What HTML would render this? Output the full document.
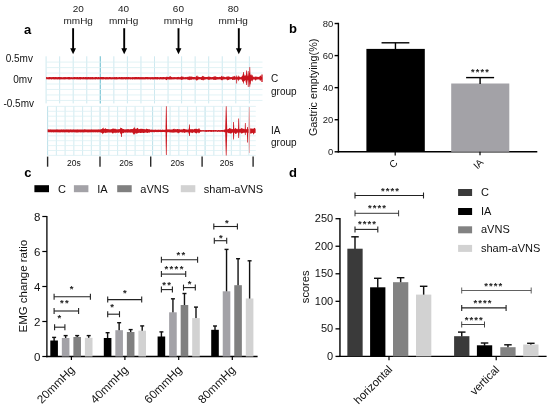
<!DOCTYPE html>
<html><head><meta charset="utf-8"><title>Figure</title>
<style>html,body{margin:0;padding:0;background:#fff}svg{display:block}text{font-family:'Liberation Sans', sans-serif}</style>
</head><body>
<svg width="550" height="407" viewBox="0 0 550 407">
<rect width="550" height="407" fill="#fff"/>
<text x="24" y="33.5" font-size="13" text-anchor="start" font-weight="bold" fill="#000">a</text>
<text transform="translate(78.2 12.40) scale(1.1 1)" font-size="9.1" text-anchor="middle" fill="#1a1a1a">20</text>
<text transform="translate(78.2 24.30) scale(1.1 1)" font-size="9.1" text-anchor="middle" fill="#1a1a1a">mmHg</text>
<line x1="73.1" y1="28.2" x2="73.1" y2="49.5" stroke="#000" stroke-width="1.9"/>
<polygon points="70.19999999999999,48.2 76.0,48.2 73.1,54.2" fill="#000"/>
<text transform="translate(123.6 12.40) scale(1.1 1)" font-size="9.1" text-anchor="middle" fill="#1a1a1a">40</text>
<text transform="translate(123.6 24.30) scale(1.1 1)" font-size="9.1" text-anchor="middle" fill="#1a1a1a">mmHg</text>
<line x1="124.2" y1="28.2" x2="124.2" y2="49.5" stroke="#000" stroke-width="1.9"/>
<polygon points="121.3,48.2 127.10000000000001,48.2 124.2,54.2" fill="#000"/>
<text transform="translate(178.4 12.40) scale(1.1 1)" font-size="9.1" text-anchor="middle" fill="#1a1a1a">60</text>
<text transform="translate(178.4 24.30) scale(1.1 1)" font-size="9.1" text-anchor="middle" fill="#1a1a1a">mmHg</text>
<line x1="178.5" y1="28.2" x2="178.5" y2="49.5" stroke="#000" stroke-width="1.9"/>
<polygon points="175.6,48.2 181.4,48.2 178.5,54.2" fill="#000"/>
<text transform="translate(233.2 12.40) scale(1.1 1)" font-size="9.1" text-anchor="middle" fill="#1a1a1a">80</text>
<text transform="translate(233.2 24.30) scale(1.1 1)" font-size="9.1" text-anchor="middle" fill="#1a1a1a">mmHg</text>
<line x1="238.8" y1="28.2" x2="238.8" y2="49.5" stroke="#000" stroke-width="1.9"/>
<polygon points="235.9,48.2 241.70000000000002,48.2 238.8,54.2" fill="#000"/>
<text x="32.9" y="62.4" font-size="10" text-anchor="end" font-weight="normal" fill="#111">0.5mv</text>
<text x="32.2" y="83.3" font-size="10" text-anchor="end" font-weight="normal" fill="#111">0mv</text>
<text x="34" y="107" font-size="10" text-anchor="end" font-weight="normal" fill="#111">-0.5mv</text>
<line x1="46.1" y1="56.3" x2="46.1" y2="103.4" stroke="#c8e7ee" stroke-width="0.9"/>
<line x1="59.65" y1="56.3" x2="59.65" y2="103.4" stroke="#c8e7ee" stroke-width="0.9"/>
<line x1="73.2" y1="56.3" x2="73.2" y2="103.4" stroke="#c8e7ee" stroke-width="0.9"/>
<line x1="86.75" y1="56.3" x2="86.75" y2="103.4" stroke="#c8e7ee" stroke-width="0.9"/>
<line x1="100.3" y1="56.3" x2="100.3" y2="103.4" stroke="#7fc7d6" stroke-width="1.2"/>
<line x1="113.85" y1="56.3" x2="113.85" y2="103.4" stroke="#c8e7ee" stroke-width="0.9"/>
<line x1="127.4" y1="56.3" x2="127.4" y2="103.4" stroke="#c8e7ee" stroke-width="0.9"/>
<line x1="140.95" y1="56.3" x2="140.95" y2="103.4" stroke="#c8e7ee" stroke-width="0.9"/>
<line x1="154.5" y1="56.3" x2="154.5" y2="103.4" stroke="#c8e7ee" stroke-width="0.9"/>
<line x1="168.05" y1="56.3" x2="168.05" y2="103.4" stroke="#c8e7ee" stroke-width="0.9"/>
<line x1="181.6" y1="56.3" x2="181.6" y2="103.4" stroke="#c8e7ee" stroke-width="0.9"/>
<line x1="195.15" y1="56.3" x2="195.15" y2="103.4" stroke="#c8e7ee" stroke-width="0.9"/>
<line x1="208.7" y1="56.3" x2="208.7" y2="103.4" stroke="#c8e7ee" stroke-width="0.9"/>
<line x1="222.25" y1="56.3" x2="222.25" y2="103.4" stroke="#c8e7ee" stroke-width="0.9"/>
<line x1="235.8" y1="56.3" x2="235.8" y2="103.4" stroke="#c8e7ee" stroke-width="0.9"/>
<line x1="249.35" y1="56.3" x2="249.35" y2="103.4" stroke="#c8e7ee" stroke-width="0.9"/>
<line x1="46.1" y1="62.08" x2="262.5" y2="62.08" stroke="#dcf0f4" stroke-width="0.8"/>
<line x1="46.1" y1="67.56" x2="262.5" y2="67.56" stroke="#dcf0f4" stroke-width="0.8"/>
<line x1="46.1" y1="73.04" x2="262.5" y2="73.04" stroke="#dcf0f4" stroke-width="0.8"/>
<line x1="46.1" y1="78.52" x2="262.5" y2="78.52" stroke="#dcf0f4" stroke-width="0.8"/>
<line x1="46.1" y1="84.0" x2="262.5" y2="84.0" stroke="#dcf0f4" stroke-width="0.8"/>
<line x1="46.1" y1="89.48" x2="262.5" y2="89.48" stroke="#dcf0f4" stroke-width="0.8"/>
<line x1="46.1" y1="94.96" x2="262.5" y2="94.96" stroke="#dcf0f4" stroke-width="0.8"/>
<line x1="46.1" y1="100.44" x2="262.5" y2="100.44" stroke="#dcf0f4" stroke-width="0.8"/>
<line x1="47.6" y1="106.2" x2="47.6" y2="155.4" stroke="#b4dde7" stroke-width="0.9"/>
<line x1="56.35" y1="106.2" x2="56.35" y2="155.4" stroke="#c8e7ee" stroke-width="0.8"/>
<line x1="65.1" y1="106.2" x2="65.1" y2="155.4" stroke="#c8e7ee" stroke-width="0.8"/>
<line x1="73.85" y1="106.2" x2="73.85" y2="155.4" stroke="#c8e7ee" stroke-width="0.8"/>
<line x1="82.6" y1="106.2" x2="82.6" y2="155.4" stroke="#c8e7ee" stroke-width="0.8"/>
<line x1="91.35" y1="106.2" x2="91.35" y2="155.4" stroke="#c8e7ee" stroke-width="0.8"/>
<line x1="100.1" y1="106.2" x2="100.1" y2="155.4" stroke="#b4dde7" stroke-width="0.9"/>
<line x1="108.85" y1="106.2" x2="108.85" y2="155.4" stroke="#c8e7ee" stroke-width="0.8"/>
<line x1="117.6" y1="106.2" x2="117.6" y2="155.4" stroke="#c8e7ee" stroke-width="0.8"/>
<line x1="126.35" y1="106.2" x2="126.35" y2="155.4" stroke="#c8e7ee" stroke-width="0.8"/>
<line x1="135.1" y1="106.2" x2="135.1" y2="155.4" stroke="#c8e7ee" stroke-width="0.8"/>
<line x1="143.85" y1="106.2" x2="143.85" y2="155.4" stroke="#c8e7ee" stroke-width="0.8"/>
<line x1="152.6" y1="106.2" x2="152.6" y2="155.4" stroke="#b4dde7" stroke-width="0.9"/>
<line x1="161.35" y1="106.2" x2="161.35" y2="155.4" stroke="#c8e7ee" stroke-width="0.8"/>
<line x1="170.1" y1="106.2" x2="170.1" y2="155.4" stroke="#c8e7ee" stroke-width="0.8"/>
<line x1="178.85" y1="106.2" x2="178.85" y2="155.4" stroke="#c8e7ee" stroke-width="0.8"/>
<line x1="187.6" y1="106.2" x2="187.6" y2="155.4" stroke="#c8e7ee" stroke-width="0.8"/>
<line x1="196.35" y1="106.2" x2="196.35" y2="155.4" stroke="#c8e7ee" stroke-width="0.8"/>
<line x1="205.1" y1="106.2" x2="205.1" y2="155.4" stroke="#b4dde7" stroke-width="0.9"/>
<line x1="213.85" y1="106.2" x2="213.85" y2="155.4" stroke="#c8e7ee" stroke-width="0.8"/>
<line x1="222.6" y1="106.2" x2="222.6" y2="155.4" stroke="#c8e7ee" stroke-width="0.8"/>
<line x1="231.35" y1="106.2" x2="231.35" y2="155.4" stroke="#c8e7ee" stroke-width="0.8"/>
<line x1="240.1" y1="106.2" x2="240.1" y2="155.4" stroke="#c8e7ee" stroke-width="0.8"/>
<line x1="248.85" y1="106.2" x2="248.85" y2="155.4" stroke="#c8e7ee" stroke-width="0.8"/>
<line x1="47.6" y1="106.4" x2="255.8" y2="106.4" stroke="#dcf0f4" stroke-width="0.8"/>
<line x1="47.6" y1="111.3" x2="255.8" y2="111.3" stroke="#dcf0f4" stroke-width="0.8"/>
<line x1="47.6" y1="116.2" x2="255.8" y2="116.2" stroke="#dcf0f4" stroke-width="0.8"/>
<line x1="47.6" y1="121.1" x2="255.8" y2="121.1" stroke="#dcf0f4" stroke-width="0.8"/>
<line x1="47.6" y1="126.0" x2="255.8" y2="126.0" stroke="#dcf0f4" stroke-width="0.8"/>
<line x1="47.6" y1="130.9" x2="255.8" y2="130.9" stroke="#dcf0f4" stroke-width="0.8"/>
<line x1="47.6" y1="135.8" x2="255.8" y2="135.8" stroke="#dcf0f4" stroke-width="0.8"/>
<line x1="47.6" y1="140.7" x2="255.8" y2="140.7" stroke="#dcf0f4" stroke-width="0.8"/>
<line x1="47.6" y1="145.6" x2="255.8" y2="145.6" stroke="#dcf0f4" stroke-width="0.8"/>
<line x1="47.6" y1="150.5" x2="255.8" y2="150.5" stroke="#dcf0f4" stroke-width="0.8"/>
<line x1="47.6" y1="155.4" x2="255.8" y2="155.4" stroke="#dcf0f4" stroke-width="0.8"/>
<polygon points="46.1,77.1 46.5,77.0 46.9,77.1 47.3,77.2 47.7,77.2 48.1,77.2 48.5,77.1 48.9,77.2 49.3,77.0 49.7,77.0 50.1,76.9 50.5,76.9 50.9,77.2 51.3,77.1 51.7,77.2 52.1,77.0 52.5,77.1 52.9,77.2 53.3,77.0 53.7,77.1 54.1,77.1 54.5,77.0 54.9,77.2 55.3,77.1 55.7,77.0 56.1,76.9 56.5,77.1 56.9,77.2 57.3,77.2 57.7,77.0 58.1,76.9 58.5,77.0 58.9,77.0 59.3,77.0 59.7,77.1 60.1,77.2 60.5,77.0 60.9,77.0 61.3,77.1 61.7,77.2 62.1,77.2 62.5,77.2 62.9,77.2 63.3,77.1 63.7,77.2 64.1,77.1 64.5,77.0 64.9,77.2 65.3,77.1 65.7,76.9 66.1,77.2 66.5,77.2 66.9,77.0 67.3,77.2 67.7,77.1 68.1,76.9 68.5,77.1 68.9,77.0 69.3,76.9 69.7,76.9 70.1,77.1 70.5,77.2 70.9,77.2 71.3,77.2 71.7,77.1 72.1,77.2 72.5,77.2 72.9,77.2 73.3,77.0 73.7,77.2 74.1,77.1 74.5,77.0 74.9,77.1 75.3,77.2 75.7,77.1 76.1,77.0 76.5,77.2 76.9,77.1 77.3,77.1 77.7,77.1 78.1,76.9 78.5,77.2 78.9,77.2 79.3,77.1 79.7,77.1 80.1,77.0 80.5,77.0 80.9,77.0 81.3,77.2 81.7,77.1 82.1,77.2 82.5,77.2 82.9,76.9 83.3,76.9 83.7,76.9 84.1,77.2 84.5,77.2 84.9,77.0 85.3,77.0 85.7,77.0 86.1,77.2 86.5,76.9 86.9,77.0 87.3,77.2 87.7,77.1 88.1,76.9 88.5,77.1 88.9,77.0 89.3,77.2 89.7,76.9 90.1,77.2 90.5,76.9 90.9,77.1 91.3,77.2 91.7,76.9 92.1,77.1 92.5,77.1 92.9,77.0 93.3,77.2 93.7,77.2 94.1,77.2 94.5,77.2 94.9,77.1 95.3,77.0 95.7,77.1 96.1,77.1 96.5,77.1 96.9,77.1 97.3,77.2 97.7,77.2 98.1,77.0 98.5,77.1 98.9,77.1 99.3,77.2 99.7,77.2 100.1,77.0 100.5,77.1 100.9,76.9 101.3,77.0 101.7,77.1 102.1,77.1 102.5,77.1 102.9,77.0 103.3,76.9 103.7,77.1 104.1,77.0 104.5,77.2 104.9,77.2 105.3,77.2 105.7,77.0 106.1,77.2 106.5,77.0 106.9,76.9 107.3,77.2 107.7,77.1 108.1,76.9 108.5,77.2 108.9,77.2 109.3,77.1 109.7,77.0 110.1,77.0 110.5,77.2 110.9,77.1 111.3,77.2 111.7,77.2 112.1,77.2 112.5,77.2 112.9,77.1 113.3,77.2 113.7,77.2 114.1,77.1 114.5,77.1 114.9,77.2 115.3,77.2 115.7,77.0 116.1,77.1 116.5,77.1 116.9,77.1 117.3,77.2 117.7,77.2 118.1,77.2 118.5,77.2 118.9,76.9 119.3,77.1 119.7,77.1 120.1,77.2 120.5,77.2 120.9,77.0 121.3,77.0 121.7,76.9 122.1,77.2 122.5,77.0 122.9,77.1 123.3,77.0 123.7,77.2 124.1,77.2 124.5,77.0 124.9,77.0 125.3,77.0 125.7,77.2 126.1,77.0 126.5,77.1 126.9,77.0 127.3,77.0 127.7,77.2 128.1,77.0 128.5,77.1 128.9,76.9 129.3,77.0 129.7,77.2 130.1,77.2 130.5,77.0 130.9,77.2 131.3,77.2 131.7,77.2 132.1,77.2 132.5,76.9 132.9,77.1 133.3,77.1 133.7,77.2 134.1,77.2 134.5,77.1 134.9,77.0 135.3,77.0 135.7,77.0 136.1,76.9 136.5,77.1 136.9,77.0 137.3,77.2 137.7,77.1 138.1,77.1 138.5,77.1 138.9,77.1 139.3,77.1 139.7,77.2 140.1,77.1 140.5,77.2 140.9,76.9 141.3,77.2 141.7,77.0 142.1,77.0 142.5,77.2 142.9,76.9 143.3,77.1 143.7,77.2 144.1,77.2 144.5,77.2 144.9,77.1 145.3,77.1 145.7,76.9 146.1,76.9 146.5,77.1 146.9,77.0 147.3,77.1 147.7,77.0 148.1,76.9 148.5,77.2 148.9,77.1 149.3,77.0 149.7,77.2 150.1,77.2 150.5,77.0 150.9,77.2 151.3,77.0 151.7,77.2 152.1,76.9 152.5,77.1 152.9,77.2 153.3,77.2 153.7,77.1 154.1,77.2 154.5,77.0 154.9,76.9 155.3,77.1 155.7,76.9 156.1,77.2 156.5,77.1 156.9,76.9 157.3,77.0 157.7,77.1 158.1,77.2 158.5,77.2 158.9,76.9 159.3,77.2 159.7,77.2 160.1,77.0 160.5,77.0 160.9,77.0 161.3,77.2 161.7,77.1 162.1,77.0 162.5,77.1 162.9,77.2 163.3,76.9 163.7,76.9 164.1,77.0 164.5,77.2 164.9,77.1 165.3,77.3 165.7,77.1 166.1,77.0 166.5,76.7 166.9,76.7 167.3,76.9 167.7,76.7 168.1,77.1 168.5,77.0 168.9,77.1 169.3,76.4 169.7,76.6 170.1,76.2 170.5,76.2 170.9,76.4 171.3,76.9 171.7,77.0 172.1,77.0 172.5,77.2 172.9,77.3 173.3,77.2 173.7,77.0 174.1,77.1 174.5,77.0 174.9,77.2 175.3,76.9 175.7,77.2 176.1,77.2 176.5,77.1 176.9,77.2 177.3,77.0 177.7,76.9 178.1,76.9 178.5,76.8 178.9,77.1 179.3,77.0 179.7,77.2 180.1,77.3 180.5,76.7 180.9,76.9 181.3,76.5 181.7,76.3 182.1,76.6 182.5,76.5 182.9,76.9 183.3,76.5 183.7,77.2 184.1,77.0 184.5,77.3 184.9,77.3 185.3,77.1 185.7,77.0 186.1,77.2 186.5,76.8 186.9,77.2 187.3,76.9 187.7,76.7 188.1,76.9 188.5,76.8 188.9,76.6 189.3,76.7 189.7,76.2 190.1,76.3 190.5,76.4 190.9,77.0 191.3,76.3 191.7,76.7 192.1,76.8 192.5,77.0 192.9,76.8 193.3,77.0 193.7,76.9 194.1,76.9 194.5,77.0 194.9,77.0 195.3,77.2 195.7,76.9 196.1,76.2 196.5,76.3 196.9,75.6 197.3,75.5 197.7,76.9 198.1,76.1 198.5,77.1 198.9,77.0 199.3,77.0 199.7,76.9 200.1,77.2 200.5,77.0 200.9,77.0 201.3,77.1 201.7,76.8 202.1,76.5 202.5,75.8 202.9,76.1 203.3,76.0 203.7,76.4 204.1,76.7 204.5,76.9 204.9,76.7 205.3,76.9 205.7,77.1 206.1,76.9 206.5,76.9 206.9,77.0 207.3,76.8 207.7,77.0 208.1,77.0 208.5,76.4 208.9,76.2 209.3,76.6 209.7,77.0 210.1,76.7 210.5,77.0 210.9,76.9 211.3,77.2 211.7,76.9 212.1,77.0 212.5,77.1 212.9,77.0 213.3,76.8 213.7,76.7 214.1,76.3 214.5,76.5 214.9,76.6 215.3,76.5 215.7,76.3 216.1,76.5 216.5,77.1 216.9,77.0 217.3,77.1 217.7,76.9 218.1,77.2 218.5,76.9 218.9,77.0 219.3,76.8 219.7,77.1 220.1,76.9 220.5,77.0 220.9,76.8 221.3,76.3 221.7,75.8 222.1,75.9 222.5,76.8 222.9,76.7 223.3,76.6 223.7,76.6 224.1,76.9 224.5,76.8 224.9,76.9 225.3,77.1 225.7,77.2 226.1,77.0 226.5,76.8 226.9,76.4 227.3,76.7 227.7,76.5 228.1,76.1 228.5,76.7 228.9,76.4 229.3,76.6 229.7,76.9 230.1,77.0 230.5,76.9 230.9,77.2 231.3,76.9 231.7,76.9 232.1,77.2 232.5,76.5 232.9,76.4 233.3,76.6 233.7,76.6 234.1,75.8 234.5,76.0 234.9,76.6 235.3,76.3 235.7,77.2 236.1,76.9 236.5,76.9 236.9,77.2 237.3,77.3 237.7,76.4 238.1,76.7 238.5,75.9 238.9,75.2 239.3,76.4 239.7,77.0 240.1,77.2 240.5,77.0 240.9,77.2 241.3,77.0 241.7,76.6 242.1,75.8 242.5,75.8 242.9,73.9 243.3,73.3 243.7,73.3 244.1,73.8 244.5,76.0 244.9,75.5 245.3,76.0 245.7,74.5 246.1,75.4 246.5,72.5 246.9,73.3 247.3,74.8 247.7,76.3 248.1,76.3 248.5,75.5 248.9,73.6 249.3,72.5 249.7,72.2 250.1,73.7 250.5,75.2 250.9,74.8 251.3,75.7 251.7,73.7 252.1,75.6 252.5,74.5 252.9,76.5 253.3,76.8 253.7,76.8 254.1,77.1 254.5,77.2 254.9,76.2 255.3,76.2 255.7,76.9 256.1,76.5 256.5,76.7 256.9,76.8 257.3,77.0 257.7,76.8 258.1,76.8 258.5,77.0 258.9,77.1 259.3,76.9 259.7,76.1 260.1,76.0 260.5,75.8 260.9,75.3 261.3,76.0 261.7,76.9 262.1,76.9 262.1,79.7 261.7,79.4 261.3,79.9 260.9,81.2 260.5,80.6 260.1,80.1 259.7,80.4 259.3,79.3 258.9,79.5 258.5,79.5 258.1,79.2 257.7,79.6 257.3,79.6 256.9,79.5 256.5,79.5 256.1,80.3 255.7,80.5 255.3,80.4 254.9,79.6 254.5,79.4 254.1,79.8 253.7,79.4 253.3,79.5 252.9,80.1 252.5,82.0 252.1,80.4 251.7,80.3 251.3,81.3 250.9,81.0 250.5,84.9 250.1,83.6 249.7,85.3 249.3,81.6 248.9,82.4 248.5,80.2 248.1,79.9 247.7,79.8 247.3,81.2 246.9,81.5 246.5,82.2 246.1,83.5 245.7,82.1 245.3,79.8 244.9,80.5 244.5,81.1 244.1,81.2 243.7,82.5 243.3,81.5 242.9,81.8 242.5,81.7 242.1,80.8 241.7,79.7 241.3,79.4 240.9,79.3 240.5,79.4 240.1,79.3 239.7,79.3 239.3,80.1 238.9,80.1 238.5,81.4 238.1,80.3 237.7,79.9 237.3,79.2 236.9,79.3 236.5,79.5 236.1,79.2 235.7,79.7 235.3,79.6 234.9,79.8 234.5,79.8 234.1,80.0 233.7,79.5 233.3,80.0 232.9,80.0 232.5,79.9 232.1,79.7 231.7,79.1 231.3,79.3 230.9,79.3 230.5,79.5 230.1,79.3 229.7,79.5 229.3,79.5 228.9,79.7 228.5,80.1 228.1,80.0 227.7,80.4 227.3,80.0 226.9,79.6 226.5,79.6 226.1,79.6 225.7,79.2 225.3,79.2 224.9,79.5 224.5,79.3 224.1,79.6 223.7,79.6 223.3,79.4 222.9,79.5 222.5,80.3 222.1,80.3 221.7,80.3 221.3,79.9 220.9,79.7 220.5,79.6 220.1,79.3 219.7,79.4 219.3,79.3 218.9,79.4 218.5,79.4 218.1,79.3 217.7,79.4 217.3,79.5 216.9,79.6 216.5,79.5 216.1,79.9 215.7,79.8 215.3,80.0 214.9,80.0 214.5,80.0 214.1,79.6 213.7,79.7 213.3,79.9 212.9,79.5 212.5,79.6 212.1,79.3 211.7,79.5 211.3,79.6 210.9,79.5 210.5,79.6 210.1,79.6 209.7,79.9 209.3,79.5 208.9,79.9 208.5,79.6 208.1,80.0 207.7,79.4 207.3,79.2 206.9,79.2 206.5,79.2 206.1,79.2 205.7,79.4 205.3,79.5 204.9,79.4 204.5,79.9 204.1,79.6 203.7,80.0 203.3,80.6 202.9,80.3 202.5,79.8 202.1,80.3 201.7,80.0 201.3,80.0 200.9,79.4 200.5,79.3 200.1,79.4 199.7,79.5 199.3,79.3 198.9,79.2 198.5,79.6 198.1,79.8 197.7,80.5 197.3,79.7 196.9,80.5 196.5,80.5 196.1,80.3 195.7,79.3 195.3,79.7 194.9,79.4 194.5,79.3 194.1,79.5 193.7,79.6 193.3,79.4 192.9,79.4 192.5,79.3 192.1,79.6 191.7,79.8 191.3,79.7 190.9,80.0 190.5,79.5 190.1,80.0 189.7,80.3 189.3,79.7 188.9,80.0 188.5,79.7 188.1,79.7 187.7,79.4 187.3,79.7 186.9,79.3 186.5,79.3 186.1,79.3 185.7,79.4 185.3,79.3 184.9,79.2 184.5,79.3 184.1,79.5 183.7,79.1 183.3,79.7 182.9,79.6 182.5,79.5 182.1,80.1 181.7,79.8 181.3,80.0 180.9,79.6 180.5,79.5 180.1,79.4 179.7,79.3 179.3,79.5 178.9,79.4 178.5,79.2 178.1,79.4 177.7,79.4 177.3,79.6 176.9,79.3 176.5,79.5 176.1,79.2 175.7,79.2 175.3,79.2 174.9,79.3 174.5,79.3 174.1,79.4 173.7,79.4 173.3,79.3 172.9,79.6 172.5,79.3 172.1,79.4 171.7,79.4 171.3,79.6 170.9,79.3 170.5,79.4 170.1,79.7 169.7,79.5 169.3,79.6 168.9,79.4 168.5,79.5 168.1,79.3 167.7,79.2 167.3,79.5 166.9,80.2 166.5,80.1 166.1,79.9 165.7,79.7 165.3,79.3 164.9,79.3 164.5,79.1 164.1,79.4 163.7,79.2 163.3,79.5 162.9,79.2 162.5,79.4 162.1,79.5 161.7,79.3 161.3,79.4 160.9,79.2 160.5,79.3 160.1,79.4 159.7,79.4 159.3,79.4 158.9,79.2 158.5,79.3 158.1,79.2 157.7,79.4 157.3,79.4 156.9,79.4 156.5,79.3 156.1,79.5 155.7,79.5 155.3,79.2 154.9,79.2 154.5,79.3 154.1,79.5 153.7,79.4 153.3,79.5 152.9,79.3 152.5,79.4 152.1,79.5 151.7,79.2 151.3,79.3 150.9,79.4 150.5,79.5 150.1,79.5 149.7,79.2 149.3,79.2 148.9,79.2 148.5,79.3 148.1,79.4 147.7,79.3 147.3,79.4 146.9,79.2 146.5,79.3 146.1,79.3 145.7,79.2 145.3,79.5 144.9,79.4 144.5,79.3 144.1,79.4 143.7,79.4 143.3,79.2 142.9,79.4 142.5,79.3 142.1,79.5 141.7,79.3 141.3,79.5 140.9,79.5 140.5,79.3 140.1,79.5 139.7,79.5 139.3,79.3 138.9,79.4 138.5,79.2 138.1,79.2 137.7,79.5 137.3,79.2 136.9,79.3 136.5,79.5 136.1,79.3 135.7,79.3 135.3,79.4 134.9,79.5 134.5,79.5 134.1,79.3 133.7,79.2 133.3,79.2 132.9,79.5 132.5,79.5 132.1,79.4 131.7,79.3 131.3,79.3 130.9,79.3 130.5,79.5 130.1,79.5 129.7,79.2 129.3,79.3 128.9,79.2 128.5,79.5 128.1,79.3 127.7,79.4 127.3,79.3 126.9,79.2 126.5,79.4 126.1,79.3 125.7,79.4 125.3,79.4 124.9,79.3 124.5,79.3 124.1,79.3 123.7,79.2 123.3,79.4 122.9,79.4 122.5,79.2 122.1,79.5 121.7,79.4 121.3,79.3 120.9,79.4 120.5,79.3 120.1,79.2 119.7,79.2 119.3,79.2 118.9,79.2 118.5,79.2 118.1,79.3 117.7,79.5 117.3,79.2 116.9,79.2 116.5,79.4 116.1,79.4 115.7,79.3 115.3,79.5 114.9,79.4 114.5,79.3 114.1,79.4 113.7,79.2 113.3,79.3 112.9,79.3 112.5,79.2 112.1,79.4 111.7,79.4 111.3,79.3 110.9,79.4 110.5,79.2 110.1,79.2 109.7,79.2 109.3,79.2 108.9,79.4 108.5,79.3 108.1,79.4 107.7,79.3 107.3,79.5 106.9,79.5 106.5,79.2 106.1,79.4 105.7,79.5 105.3,79.4 104.9,79.2 104.5,79.3 104.1,79.2 103.7,79.5 103.3,79.2 102.9,79.5 102.5,79.5 102.1,79.3 101.7,79.4 101.3,79.3 100.9,79.3 100.5,79.4 100.1,79.3 99.7,79.2 99.3,79.3 98.9,79.4 98.5,79.3 98.1,79.3 97.7,79.3 97.3,79.4 96.9,79.2 96.5,79.2 96.1,79.3 95.7,79.5 95.3,79.5 94.9,79.3 94.5,79.5 94.1,79.3 93.7,79.4 93.3,79.3 92.9,79.2 92.5,79.5 92.1,79.5 91.7,79.4 91.3,79.2 90.9,79.3 90.5,79.4 90.1,79.4 89.7,79.4 89.3,79.2 88.9,79.2 88.5,79.5 88.1,79.3 87.7,79.4 87.3,79.4 86.9,79.3 86.5,79.4 86.1,79.4 85.7,79.4 85.3,79.3 84.9,79.5 84.5,79.2 84.1,79.2 83.7,79.3 83.3,79.5 82.9,79.3 82.5,79.4 82.1,79.2 81.7,79.2 81.3,79.3 80.9,79.4 80.5,79.4 80.1,79.5 79.7,79.2 79.3,79.4 78.9,79.4 78.5,79.3 78.1,79.4 77.7,79.5 77.3,79.2 76.9,79.2 76.5,79.5 76.1,79.2 75.7,79.2 75.3,79.2 74.9,79.3 74.5,79.5 74.1,79.2 73.7,79.3 73.3,79.2 72.9,79.5 72.5,79.3 72.1,79.2 71.7,79.2 71.3,79.2 70.9,79.2 70.5,79.4 70.1,79.3 69.7,79.4 69.3,79.4 68.9,79.2 68.5,79.4 68.1,79.4 67.7,79.3 67.3,79.3 66.9,79.2 66.5,79.3 66.1,79.2 65.7,79.2 65.3,79.5 64.9,79.3 64.5,79.5 64.1,79.5 63.7,79.3 63.3,79.5 62.9,79.2 62.5,79.4 62.1,79.2 61.7,79.3 61.3,79.4 60.9,79.2 60.5,79.5 60.1,79.4 59.7,79.4 59.3,79.5 58.9,79.3 58.5,79.4 58.1,79.3 57.7,79.4 57.3,79.4 56.9,79.3 56.5,79.4 56.1,79.2 55.7,79.3 55.3,79.5 54.9,79.4 54.5,79.4 54.1,79.3 53.7,79.4 53.3,79.3 52.9,79.2 52.5,79.2 52.1,79.3 51.7,79.4 51.3,79.4 50.9,79.2 50.5,79.3 50.1,79.2 49.7,79.3 49.3,79.5 48.9,79.2 48.5,79.4 48.1,79.2 47.7,79.3 47.3,79.3 46.9,79.3 46.5,79.2 46.1,79.2" fill="#c9151e"/>
<polygon points="249.45000000000002,67 250.15,67 250.5,78.2 250.15,86.8 249.45000000000002,86.8 249.10000000000002,78.2" fill="#c9151e"/>
<polygon points="246.25,70.5 246.95,70.5 247.29999999999998,78.2 246.95,85 246.25,85 245.9,78.2" fill="#c9151e"/>
<polygon points="243.25,72 243.95,72 244.2,78.2 243.95,83.5 243.25,83.5 243.0,78.2" fill="#c9151e"/>
<polygon points="247.85,71 248.54999999999998,71 248.79999999999998,78.2 248.54999999999998,87 247.85,87 247.6,78.2" fill="#c9151e"/>
<polygon points="236.35,75.5 237.04999999999998,75.5 237.2,78.2 237.04999999999998,83.5 236.35,83.5 236.2,78.2" fill="#c9151e"/>
<line x1="262" y1="74.5" x2="262" y2="82" stroke="#c9151e" stroke-width="1.3"/>
<polygon points="47.6,129.6 48.0,129.3 48.4,129.4 48.8,129.3 49.2,129.4 49.6,129.6 50.0,129.4 50.4,129.6 50.8,129.3 51.2,129.5 51.6,129.6 52.0,129.4 52.4,129.6 52.8,129.4 53.2,129.6 53.6,129.4 54.0,129.4 54.4,129.6 54.8,129.4 55.2,129.4 55.6,129.4 56.0,129.4 56.4,129.5 56.8,129.3 57.2,129.3 57.6,129.6 58.0,129.5 58.4,129.5 58.8,129.6 59.2,129.5 59.6,129.6 60.0,129.4 60.4,129.5 60.8,129.6 61.2,129.5 61.6,129.3 62.0,129.6 62.4,129.4 62.8,129.4 63.2,129.3 63.6,129.5 64.0,129.5 64.4,129.6 64.8,129.4 65.2,129.4 65.6,129.4 66.0,129.5 66.4,129.4 66.8,129.3 67.2,129.4 67.6,129.5 68.0,129.3 68.4,129.4 68.8,129.4 69.2,129.5 69.6,129.5 70.0,129.5 70.4,129.3 70.8,129.5 71.2,129.5 71.6,129.6 72.0,129.5 72.4,129.5 72.8,129.5 73.2,129.5 73.6,129.3 74.0,129.6 74.4,129.6 74.8,129.6 75.2,129.6 75.6,129.6 76.0,129.4 76.4,129.4 76.8,129.4 77.2,129.3 77.6,129.5 78.0,129.4 78.4,129.5 78.8,129.5 79.2,129.4 79.6,129.6 80.0,129.4 80.4,129.4 80.8,129.5 81.2,129.5 81.6,129.5 82.0,129.4 82.4,129.5 82.8,129.6 83.2,129.4 83.6,129.5 84.0,129.5 84.4,129.3 84.8,129.3 85.2,129.3 85.6,129.5 86.0,129.4 86.4,129.4 86.8,129.5 87.2,129.4 87.6,129.5 88.0,129.5 88.4,129.6 88.8,129.6 89.2,129.4 89.6,129.4 90.0,129.6 90.4,129.4 90.8,129.6 91.2,129.5 91.6,129.3 92.0,129.4 92.4,129.5 92.8,129.4 93.2,129.5 93.6,129.5 94.0,129.5 94.4,129.5 94.8,129.5 95.2,129.6 95.6,129.6 96.0,129.4 96.4,129.4 96.8,129.5 97.2,129.5 97.6,129.4 98.0,129.5 98.4,129.3 98.8,129.6 99.2,129.5 99.6,129.6 100.0,129.3 100.4,129.4 100.8,129.3 101.2,129.0 101.6,129.3 102.0,128.7 102.4,128.4 102.8,128.2 103.2,127.3 103.6,128.6 104.0,128.9 104.4,128.9 104.8,128.8 105.2,128.3 105.6,128.3 106.0,128.7 106.4,129.1 106.8,129.0 107.2,129.1 107.6,129.0 108.0,129.3 108.4,129.2 108.8,129.1 109.2,129.0 109.6,129.4 110.0,129.4 110.4,129.4 110.8,129.1 111.2,129.3 111.6,129.1 112.0,128.9 112.4,128.8 112.8,128.5 113.2,128.6 113.6,128.8 114.0,128.6 114.4,128.7 114.8,129.0 115.2,128.4 115.6,129.0 116.0,129.3 116.4,129.3 116.8,129.2 117.2,129.3 117.6,129.2 118.0,129.4 118.4,129.0 118.8,129.2 119.2,129.3 119.6,129.1 120.0,129.0 120.4,127.7 120.8,127.6 121.2,127.9 121.6,128.5 122.0,128.9 122.4,129.0 122.8,128.2 123.2,128.9 123.6,128.9 124.0,129.2 124.4,129.5 124.8,129.3 125.2,129.2 125.6,129.4 126.0,129.2 126.4,129.3 126.8,129.3 127.2,129.3 127.6,129.1 128.0,129.2 128.4,129.3 128.8,129.0 129.2,129.2 129.6,129.4 130.0,129.2 130.4,129.1 130.8,129.3 131.2,129.1 131.6,129.0 132.0,129.3 132.4,129.1 132.8,128.9 133.2,128.9 133.6,127.7 134.0,128.1 134.4,126.6 134.8,128.3 135.2,128.7 135.6,128.8 136.0,128.7 136.4,128.7 136.8,128.6 137.2,127.7 137.6,128.1 138.0,127.9 138.4,128.9 138.8,129.2 139.2,129.1 139.6,128.9 140.0,129.2 140.4,128.7 140.8,128.8 141.2,128.9 141.6,128.6 142.0,129.1 142.4,128.7 142.8,128.9 143.2,129.1 143.6,128.9 144.0,129.3 144.4,129.1 144.8,129.3 145.2,129.4 145.6,129.2 146.0,128.9 146.4,128.7 146.8,128.6 147.2,129.0 147.6,129.0 148.0,129.0 148.4,129.3 148.8,129.3 149.2,129.3 149.6,129.1 150.0,129.8 150.4,129.6 150.8,129.7 151.2,129.7 151.6,129.6 152.0,129.6 152.4,129.7 152.8,129.7 153.2,129.6 153.6,129.9 154.0,129.7 154.4,129.8 154.8,129.8 155.2,129.6 155.6,129.6 156.0,129.9 156.4,129.8 156.8,129.8 157.2,129.8 157.6,129.8 158.0,129.8 158.4,129.8 158.8,129.6 159.2,129.7 159.6,129.7 160.0,129.8 160.4,129.6 160.8,129.8 161.2,129.9 161.6,129.9 162.0,129.8 162.4,129.6 162.8,129.7 163.2,129.7 163.6,129.8 164.0,129.9 164.4,129.8 164.8,129.8 165.2,129.8 165.6,129.8 166.0,129.6 166.4,129.7 166.8,129.5 167.2,129.3 167.6,129.4 168.0,129.6 168.4,129.3 168.8,129.6 169.2,129.3 169.6,129.5 170.0,129.4 170.4,129.4 170.8,129.5 171.2,129.4 171.6,129.5 172.0,129.5 172.4,129.3 172.8,129.6 173.2,129.1 173.6,128.9 174.0,128.6 174.4,128.8 174.8,129.4 175.2,129.1 175.6,129.2 176.0,129.3 176.4,129.3 176.8,129.2 177.2,128.9 177.6,128.9 178.0,129.1 178.4,129.0 178.8,129.4 179.2,129.1 179.6,129.2 180.0,129.4 180.4,129.5 180.8,129.4 181.2,129.3 181.6,129.5 182.0,129.4 182.4,129.2 182.8,129.5 183.2,128.8 183.6,128.9 184.0,128.8 184.4,128.9 184.8,129.0 185.2,129.3 185.6,129.3 186.0,129.6 186.4,129.5 186.8,129.3 187.2,129.7 187.6,129.5 188.0,129.5 188.4,129.7 188.8,128.8 189.2,127.2 189.6,126.7 190.0,128.9 190.4,129.4 190.8,129.0 191.2,128.9 191.6,129.2 192.0,129.4 192.4,128.9 192.8,129.3 193.2,129.2 193.6,129.4 194.0,129.3 194.4,128.8 194.8,128.9 195.2,129.0 195.6,129.0 196.0,127.9 196.4,128.9 196.8,129.0 197.2,128.9 197.6,129.0 198.0,129.4 198.4,128.4 198.8,128.5 199.2,128.1 199.6,129.2 200.0,129.5 200.4,130.0 200.8,130.1 201.2,130.2 201.6,129.9 202.0,129.9 202.4,130.2 202.8,130.1 203.2,130.2 203.6,130.1 204.0,130.1 204.4,130.2 204.8,130.2 205.2,129.9 205.6,130.0 206.0,130.2 206.4,130.0 206.8,130.0 207.2,129.9 207.6,130.2 208.0,130.1 208.4,130.1 208.8,130.1 209.2,130.0 209.6,130.0 210.0,130.1 210.4,130.0 210.8,129.9 211.2,130.0 211.6,129.9 212.0,129.9 212.4,130.2 212.8,130.1 213.2,130.0 213.6,130.0 214.0,130.1 214.4,130.1 214.8,130.2 215.2,130.0 215.6,130.1 216.0,130.0 216.4,130.0 216.8,130.2 217.2,130.2 217.6,130.2 218.0,130.1 218.4,129.9 218.8,130.1 219.2,130.1 219.6,130.2 220.0,130.1 220.4,130.2 220.8,130.1 221.2,130.1 221.6,130.1 222.0,130.0 222.4,129.9 222.8,130.1 223.2,130.2 223.6,130.1 224.0,129.6 224.4,129.6 224.8,129.8 225.2,129.8 225.6,129.6 226.0,129.2 226.4,129.5 226.8,128.8 227.2,129.2 227.6,129.4 228.0,129.1 228.4,128.7 228.8,129.1 229.2,128.2 229.6,127.8 230.0,128.5 230.4,128.1 230.8,128.9 231.2,128.4 231.6,129.2 232.0,129.0 232.4,128.9 232.8,129.2 233.2,129.2 233.6,129.4 234.0,129.0 234.4,129.2 234.8,128.6 235.2,128.5 235.6,127.8 236.0,128.1 236.4,129.0 236.8,129.0 237.2,128.5 237.6,129.3 238.0,129.3 238.4,129.4 238.8,129.2 239.2,129.2 239.6,129.1 240.0,129.1 240.4,129.1 240.8,128.4 241.2,128.3 241.6,127.7 242.0,128.7 242.4,128.1 242.8,128.9 243.2,128.6 243.6,128.9 244.0,129.1 244.4,128.8 244.8,129.5 245.2,129.0 245.6,129.2 246.0,129.5 246.4,129.1 246.8,129.2 247.2,128.9 247.6,129.5 248.0,129.4 248.4,128.9 248.8,129.2 249.2,129.5 249.6,129.3 250.0,129.1 250.4,128.7 250.8,128.1 251.2,128.3 251.6,128.9 252.0,128.3 252.4,129.1 252.8,128.5 253.2,128.4 253.6,128.7 254.0,128.2 254.4,127.7 254.8,127.9 255.2,128.5 255.6,128.9 255.6,132.7 255.2,133.1 254.8,132.7 254.4,132.9 254.0,134.5 253.6,134.4 253.2,133.8 252.8,133.0 252.4,132.9 252.0,132.7 251.6,133.5 251.2,133.5 250.8,133.1 250.4,134.0 250.0,133.4 249.6,133.4 249.2,132.7 248.8,132.9 248.4,132.8 248.0,132.7 247.6,132.6 247.2,132.8 246.8,132.9 246.4,132.3 246.0,132.8 245.6,132.7 245.2,132.5 244.8,132.6 244.4,132.8 244.0,132.9 243.6,132.6 243.2,133.1 242.8,133.0 242.4,133.5 242.0,133.0 241.6,133.4 241.2,133.7 240.8,133.0 240.4,132.5 240.0,132.6 239.6,132.7 239.2,132.6 238.8,132.3 238.4,132.8 238.0,132.4 237.6,132.6 237.2,132.9 236.8,132.7 236.4,133.9 236.0,133.8 235.6,134.0 235.2,133.8 234.8,132.9 234.4,132.7 234.0,132.7 233.6,132.4 233.2,132.9 232.8,132.7 232.4,132.5 232.0,132.7 231.6,133.3 231.2,133.4 230.8,133.2 230.4,134.1 230.0,133.0 229.6,133.2 229.2,133.2 228.8,133.2 228.4,133.1 228.0,132.7 227.6,132.5 227.2,132.5 226.8,132.4 226.4,132.5 226.0,132.5 225.6,132.0 225.2,132.1 224.8,132.2 224.4,132.2 224.0,132.1 223.6,131.8 223.2,131.8 222.8,131.9 222.4,131.8 222.0,131.7 221.6,131.6 221.2,131.9 220.8,131.8 220.4,131.7 220.0,131.9 219.6,131.9 219.2,131.6 218.8,131.6 218.4,131.8 218.0,131.9 217.6,131.8 217.2,131.9 216.8,131.6 216.4,131.8 216.0,131.6 215.6,131.7 215.2,131.8 214.8,131.6 214.4,131.8 214.0,131.8 213.6,131.9 213.2,131.7 212.8,131.7 212.4,131.6 212.0,131.9 211.6,131.9 211.2,131.8 210.8,131.8 210.4,131.8 210.0,131.9 209.6,131.6 209.2,131.6 208.8,131.8 208.4,131.9 208.0,131.6 207.6,131.8 207.2,131.7 206.8,131.9 206.4,131.8 206.0,131.9 205.6,131.8 205.2,131.8 204.8,131.7 204.4,131.6 204.0,131.7 203.6,131.6 203.2,131.6 202.8,131.6 202.4,131.6 202.0,131.7 201.6,131.6 201.2,131.7 200.8,131.8 200.4,131.8 200.0,132.1 199.6,133.3 199.2,132.7 198.8,133.6 198.4,132.6 198.0,132.8 197.6,132.6 197.2,132.4 196.8,133.4 196.4,133.2 196.0,133.4 195.6,132.8 195.2,133.0 194.8,132.8 194.4,132.3 194.0,132.4 193.6,132.3 193.2,132.4 192.8,132.7 192.4,133.1 192.0,133.3 191.6,132.7 191.2,132.4 190.8,132.7 190.4,132.3 190.0,132.7 189.6,135.0 189.2,134.5 188.8,133.4 188.4,132.3 188.0,132.5 187.6,132.3 187.2,132.3 186.8,132.4 186.4,132.1 186.0,132.5 185.6,132.3 185.2,132.5 184.8,133.1 184.4,132.8 184.0,132.8 183.6,132.3 183.2,132.4 182.8,132.7 182.4,132.6 182.0,132.3 181.6,132.4 181.2,132.2 180.8,132.3 180.4,132.1 180.0,132.6 179.6,132.5 179.2,132.8 178.8,132.8 178.4,133.2 178.0,133.5 177.6,132.7 177.2,132.5 176.8,132.3 176.4,132.4 176.0,132.3 175.6,132.4 175.2,132.3 174.8,132.4 174.4,132.6 174.0,132.6 173.6,132.8 173.2,132.6 172.8,132.7 172.4,132.4 172.0,132.4 171.6,132.4 171.2,132.4 170.8,132.4 170.4,132.5 170.0,132.2 169.6,132.4 169.2,132.3 168.8,132.1 168.4,132.3 168.0,132.3 167.6,132.2 167.2,132.2 166.8,132.5 166.4,132.4 166.0,132.3 165.6,132.0 165.2,132.2 164.8,132.2 164.4,132.1 164.0,132.0 163.6,131.9 163.2,131.9 162.8,132.1 162.4,132.0 162.0,132.2 161.6,132.1 161.2,132.0 160.8,131.9 160.4,132.2 160.0,132.0 159.6,132.1 159.2,132.0 158.8,132.0 158.4,132.2 158.0,132.0 157.6,132.2 157.2,132.0 156.8,132.2 156.4,131.9 156.0,131.9 155.6,132.0 155.2,132.1 154.8,132.2 154.4,132.2 154.0,132.2 153.6,131.9 153.2,132.2 152.8,132.2 152.4,131.9 152.0,132.1 151.6,132.2 151.2,132.2 150.8,132.1 150.4,132.2 150.0,132.0 149.6,132.7 149.2,132.8 148.8,132.6 148.4,132.5 148.0,132.7 147.6,132.9 147.2,133.1 146.8,132.6 146.4,132.7 146.0,132.7 145.6,132.5 145.2,132.4 144.8,132.7 144.4,132.8 144.0,133.0 143.6,133.0 143.2,133.0 142.8,132.6 142.4,132.9 142.0,132.7 141.6,132.9 141.2,132.7 140.8,132.9 140.4,132.9 140.0,133.0 139.6,132.8 139.2,132.7 138.8,132.8 138.4,132.9 138.0,132.9 137.6,133.1 137.2,133.7 136.8,133.5 136.4,133.8 136.0,133.2 135.6,132.8 135.2,133.8 134.8,134.8 134.4,133.6 134.0,134.7 133.6,134.4 133.2,133.8 132.8,133.2 132.4,132.6 132.0,132.7 131.6,132.6 131.2,132.4 130.8,132.6 130.4,132.8 130.0,132.8 129.6,132.4 129.2,132.5 128.8,132.6 128.4,132.5 128.0,132.8 127.6,132.7 127.2,132.5 126.8,132.5 126.4,132.6 126.0,132.4 125.6,132.7 125.2,132.6 124.8,132.6 124.4,132.6 124.0,132.7 123.6,133.0 123.2,133.2 122.8,133.4 122.4,133.3 122.0,132.6 121.6,133.4 121.2,134.6 120.8,133.9 120.4,133.6 120.0,132.7 119.6,132.3 119.2,132.6 118.8,132.4 118.4,132.9 118.0,132.7 117.6,132.6 117.2,132.7 116.8,132.8 116.4,132.8 116.0,132.7 115.6,132.6 115.2,133.5 114.8,132.7 114.4,132.7 114.0,132.8 113.6,132.7 113.2,133.6 112.8,133.9 112.4,133.0 112.0,133.1 111.6,132.5 111.2,132.6 110.8,132.6 110.4,132.6 110.0,132.7 109.6,132.5 109.2,132.5 108.8,132.5 108.4,132.6 108.0,132.6 107.6,132.6 107.2,132.8 106.8,132.4 106.4,132.8 106.0,133.3 105.6,132.9 105.2,132.7 104.8,132.6 104.4,132.7 104.0,133.0 103.6,133.5 103.2,133.1 102.8,134.6 102.4,133.6 102.0,133.3 101.6,132.7 101.2,132.8 100.8,132.5 100.4,132.5 100.0,132.5 99.6,132.3 99.2,132.3 98.8,132.3 98.4,132.3 98.0,132.4 97.6,132.5 97.2,132.3 96.8,132.2 96.4,132.3 96.0,132.3 95.6,132.2 95.2,132.4 94.8,132.2 94.4,132.2 94.0,132.3 93.6,132.5 93.2,132.2 92.8,132.3 92.4,132.2 92.0,132.4 91.6,132.3 91.2,132.2 90.8,132.4 90.4,132.3 90.0,132.2 89.6,132.4 89.2,132.2 88.8,132.3 88.4,132.4 88.0,132.4 87.6,132.2 87.2,132.4 86.8,132.2 86.4,132.3 86.0,132.3 85.6,132.2 85.2,132.2 84.8,132.4 84.4,132.3 84.0,132.2 83.6,132.5 83.2,132.5 82.8,132.3 82.4,132.4 82.0,132.3 81.6,132.3 81.2,132.5 80.8,132.2 80.4,132.5 80.0,132.5 79.6,132.2 79.2,132.3 78.8,132.3 78.4,132.4 78.0,132.4 77.6,132.4 77.2,132.4 76.8,132.5 76.4,132.4 76.0,132.4 75.6,132.3 75.2,132.5 74.8,132.3 74.4,132.5 74.0,132.3 73.6,132.3 73.2,132.2 72.8,132.2 72.4,132.4 72.0,132.2 71.6,132.4 71.2,132.3 70.8,132.2 70.4,132.2 70.0,132.2 69.6,132.5 69.2,132.4 68.8,132.4 68.4,132.5 68.0,132.5 67.6,132.2 67.2,132.3 66.8,132.2 66.4,132.2 66.0,132.4 65.6,132.2 65.2,132.3 64.8,132.3 64.4,132.4 64.0,132.4 63.6,132.2 63.2,132.2 62.8,132.4 62.4,132.2 62.0,132.2 61.6,132.2 61.2,132.3 60.8,132.5 60.4,132.3 60.0,132.5 59.6,132.4 59.2,132.3 58.8,132.3 58.4,132.4 58.0,132.2 57.6,132.4 57.2,132.2 56.8,132.3 56.4,132.2 56.0,132.5 55.6,132.3 55.2,132.2 54.8,132.3 54.4,132.2 54.0,132.4 53.6,132.4 53.2,132.2 52.8,132.3 52.4,132.2 52.0,132.2 51.6,132.4 51.2,132.2 50.8,132.2 50.4,132.3 50.0,132.3 49.6,132.2 49.2,132.3 48.8,132.2 48.4,132.3 48.0,132.2 47.6,132.3" fill="#c9151e"/>
<polygon points="165.95000000000002,106.3 166.65,106.3 167.10000000000002,131 166.65,155.0 165.95000000000002,155.0 165.5,131" fill="#c9151e"/>
<polygon points="225.85,106.3 226.54999999999998,106.3 227.25,131 226.54999999999998,155.4 225.85,155.4 225.14999999999998,131" fill="#c9151e"/>
<polygon points="233.25,122 233.95,122 234.29999999999998,131 233.95,139.5 233.25,139.5 232.9,131" fill="#c9151e"/>
<polygon points="238.35,118.5 239.04999999999998,118.5 239.39999999999998,131 239.04999999999998,138 238.35,138 238.0,131" fill="#c9151e"/>
<polygon points="244.95000000000002,123 245.65,123 245.9,131 245.65,135 244.95000000000002,135 244.70000000000002,131" fill="#c9151e"/>
<polygon points="247.15,127 247.85,127 248.1,131 247.85,142.5 247.15,142.5 246.9,131" fill="#c9151e"/>
<polygon points="189.05,124.5 189.75,124.5 190.0,131 189.75,136 189.05,136 188.8,131" fill="#c9151e"/>
<polygon points="248.95000000000002,107 249.65,107 250.20000000000002,131 249.65,153 248.95000000000002,153 248.4,131" fill="#e59a9c"/>
<polygon points="121.05000000000001,128 121.75,128 122.10000000000001,131 121.75,137 121.05000000000001,137 120.7,131" fill="#c9151e"/>
<line x1="47.6" y1="156.6" x2="47.6" y2="166.7" stroke="#2a2a2a" stroke-width="1.4"/>
<line x1="100" y1="156.6" x2="100" y2="166.7" stroke="#2a2a2a" stroke-width="1.4"/>
<line x1="150.7" y1="156.6" x2="150.7" y2="166.7" stroke="#2a2a2a" stroke-width="1.4"/>
<line x1="202.1" y1="156.6" x2="202.1" y2="166.7" stroke="#2a2a2a" stroke-width="1.4"/>
<line x1="253.1" y1="156.6" x2="253.1" y2="166.7" stroke="#2a2a2a" stroke-width="1.4"/>
<text x="73.8" y="166" font-size="8.5" text-anchor="middle" font-weight="normal" fill="#111">20s</text>
<text x="126.2" y="166" font-size="8.5" text-anchor="middle" font-weight="normal" fill="#111">20s</text>
<text x="177.3" y="166" font-size="8.5" text-anchor="middle" font-weight="normal" fill="#111">20s</text>
<text x="226.6" y="166" font-size="8.5" text-anchor="middle" font-weight="normal" fill="#111">20s</text>
<text x="271" y="81.5" font-size="10" text-anchor="start" font-weight="normal" fill="#111">C</text>
<text x="271" y="94.5" font-size="10" text-anchor="start" font-weight="normal" fill="#111">group</text>
<text x="271" y="134.2" font-size="10" text-anchor="start" font-weight="normal" fill="#111">IA</text>
<text x="271" y="146.3" font-size="10" text-anchor="start" font-weight="normal" fill="#111">group</text>
<text x="289" y="33.4" font-size="13" text-anchor="start" font-weight="bold" fill="#000">b</text>
<line x1="338.4" y1="22.8" x2="338.4" y2="152.5" stroke="#000" stroke-width="1.4"/>
<line x1="337.7" y1="151.8" x2="537.3" y2="151.8" stroke="#000" stroke-width="1.4"/>
<line x1="334.6" y1="151.8" x2="338.4" y2="151.8" stroke="#000" stroke-width="1.4"/>
<text transform="translate(333.2 155.20) scale(1.1 1)" font-size="8.6" text-anchor="end" fill="#1a1a1a">0</text>
<line x1="334.6" y1="119.73000000000002" x2="338.4" y2="119.73000000000002" stroke="#000" stroke-width="1.4"/>
<text transform="translate(333.2 123.13) scale(1.1 1)" font-size="8.6" text-anchor="end" fill="#1a1a1a">20</text>
<line x1="334.6" y1="87.66000000000001" x2="338.4" y2="87.66000000000001" stroke="#000" stroke-width="1.4"/>
<text transform="translate(333.2 91.06) scale(1.1 1)" font-size="8.6" text-anchor="end" fill="#1a1a1a">40</text>
<line x1="334.6" y1="55.59000000000002" x2="338.4" y2="55.59000000000002" stroke="#000" stroke-width="1.4"/>
<text transform="translate(333.2 58.99) scale(1.1 1)" font-size="8.6" text-anchor="end" fill="#1a1a1a">60</text>
<line x1="334.6" y1="23.52000000000001" x2="338.4" y2="23.52000000000001" stroke="#000" stroke-width="1.4"/>
<text transform="translate(333.2 26.92) scale(1.1 1)" font-size="8.6" text-anchor="end" fill="#1a1a1a">80</text>
<text x="316.8" y="87.4" font-size="10.75" text-anchor="middle" font-weight="normal" fill="#111" transform="rotate(-90 316.8 87.4)">Gastric emptying(%)</text>
<rect x="366.40" y="48.90" width="58.40" height="102.90" fill="#000"/>
<rect x="451.20" y="83.50" width="58.10" height="68.30" fill="#a3a2a7"/>
<line x1="395.45" y1="42.8" x2="395.45" y2="49.4" stroke="#000" stroke-width="1.4"/>
<line x1="381.55" y1="42.8" x2="409.34999999999997" y2="42.8" stroke="#000" stroke-width="1.4"/>
<line x1="480.1" y1="77.6" x2="480.1" y2="84.0" stroke="#000" stroke-width="1.4"/>
<line x1="466.1" y1="77.6" x2="494.1" y2="77.6" stroke="#000" stroke-width="1.4"/>
<text x="480.6" y="75.4" font-size="9.2" font-weight="bold" text-anchor="middle" fill="#222" letter-spacing="1.2">****</text>
<line x1="395.2" y1="151.8" x2="395.2" y2="155.5" stroke="#000" stroke-width="1.2"/>
<line x1="480" y1="151.8" x2="480" y2="155.3" stroke="#000" stroke-width="1.2"/>
<text x="398.3" y="163.6" font-size="10" text-anchor="end" font-weight="normal" fill="#111" transform="rotate(-45 398.3 163.6)">C</text>
<text x="484.1" y="163.1" font-size="10" text-anchor="end" font-weight="normal" fill="#111" transform="rotate(-45 484.1 163.1)">IA</text>
<text x="24.2" y="177.4" font-size="13" text-anchor="start" font-weight="bold" fill="#000">c</text>
<rect x="34.40" y="185.20" width="14.60" height="7.00" fill="#000"/>
<text x="58" y="192.5" font-size="11" text-anchor="start" font-weight="normal" fill="#111">C</text>
<rect x="73.90" y="185.20" width="14.50" height="7.00" fill="#a3a2a7"/>
<text x="97.2" y="192.5" font-size="11" text-anchor="start" font-weight="normal" fill="#111">IA</text>
<rect x="117.20" y="185.20" width="14.50" height="7.00" fill="#808080"/>
<text x="140.3" y="192.5" font-size="11" text-anchor="start" font-weight="normal" fill="#111">aVNS</text>
<rect x="180.80" y="185.20" width="14.50" height="7.00" fill="#d2d2d2"/>
<text x="203.8" y="192.5" font-size="11" text-anchor="start" font-weight="normal" fill="#111">sham-aVNS</text>
<line x1="46.9" y1="215.9" x2="46.9" y2="357.15" stroke="#000" stroke-width="1.3"/>
<line x1="46.25" y1="356.5" x2="257.6" y2="356.5" stroke="#000" stroke-width="1.3"/>
<line x1="42.3" y1="356.5" x2="46.9" y2="356.5" stroke="#000" stroke-width="1.2"/>
<text x="40.4" y="360.6" font-size="11.5" text-anchor="end" font-weight="normal" fill="#111">0</text>
<line x1="42.3" y1="321.5" x2="46.9" y2="321.5" stroke="#000" stroke-width="1.2"/>
<text x="40.4" y="325.6" font-size="11.5" text-anchor="end" font-weight="normal" fill="#111">2</text>
<line x1="42.3" y1="286.5" x2="46.9" y2="286.5" stroke="#000" stroke-width="1.2"/>
<text x="40.4" y="290.6" font-size="11.5" text-anchor="end" font-weight="normal" fill="#111">4</text>
<line x1="42.3" y1="251.5" x2="46.9" y2="251.5" stroke="#000" stroke-width="1.2"/>
<text x="40.4" y="255.6" font-size="11.5" text-anchor="end" font-weight="normal" fill="#111">6</text>
<line x1="42.3" y1="216.5" x2="46.9" y2="216.5" stroke="#000" stroke-width="1.2"/>
<text x="40.4" y="220.6" font-size="11.5" text-anchor="end" font-weight="normal" fill="#111">8</text>
<text x="27.3" y="286.2" font-size="11.5" text-anchor="middle" font-weight="normal" fill="#111" transform="rotate(-90 27.3 286.2)">EMG change ratio</text>
<line x1="54.105000000000004" y1="337.4" x2="54.105000000000004" y2="341.0" stroke="#111" stroke-width="1.4"/>
<line x1="52.105000000000004" y1="337.4" x2="56.105000000000004" y2="337.4" stroke="#111" stroke-width="1.4"/>
<rect x="50.31" y="340.50" width="7.60" height="16.00" fill="#000"/>
<line x1="65.635" y1="335.6" x2="65.635" y2="338.5" stroke="#111" stroke-width="1.4"/>
<line x1="63.635000000000005" y1="335.6" x2="67.635" y2="335.6" stroke="#111" stroke-width="1.4"/>
<rect x="61.84" y="338.00" width="7.60" height="18.50" fill="#a3a2a7"/>
<line x1="77.165" y1="335.6" x2="77.165" y2="337.5" stroke="#111" stroke-width="1.4"/>
<line x1="75.165" y1="335.6" x2="79.165" y2="335.6" stroke="#111" stroke-width="1.4"/>
<rect x="73.37" y="337.00" width="7.60" height="19.50" fill="#808080"/>
<line x1="88.69500000000001" y1="335.6" x2="88.69500000000001" y2="338.3" stroke="#111" stroke-width="1.4"/>
<line x1="86.69500000000001" y1="335.6" x2="90.69500000000001" y2="335.6" stroke="#111" stroke-width="1.4"/>
<rect x="84.90" y="337.80" width="7.60" height="18.70" fill="#d2d2d2"/>
<line x1="71.4" y1="356.5" x2="71.4" y2="360.1" stroke="#000" stroke-width="1.2"/>
<text x="75.30000000000001" y="370.6" font-size="11.7" text-anchor="end" font-weight="normal" fill="#111" transform="rotate(-45 75.30000000000001 370.6)">20mmHg</text>
<line x1="107.605" y1="332.7" x2="107.605" y2="338.5" stroke="#111" stroke-width="1.4"/>
<line x1="105.605" y1="332.7" x2="109.605" y2="332.7" stroke="#111" stroke-width="1.4"/>
<rect x="103.81" y="338.00" width="7.60" height="18.50" fill="#000"/>
<line x1="119.135" y1="322.7" x2="119.135" y2="330.7" stroke="#111" stroke-width="1.4"/>
<line x1="117.135" y1="322.7" x2="121.135" y2="322.7" stroke="#111" stroke-width="1.4"/>
<rect x="115.34" y="330.20" width="7.60" height="26.30" fill="#a3a2a7"/>
<line x1="130.665" y1="329.6" x2="130.665" y2="332.5" stroke="#111" stroke-width="1.4"/>
<line x1="128.665" y1="329.6" x2="132.665" y2="329.6" stroke="#111" stroke-width="1.4"/>
<rect x="126.86" y="332.00" width="7.60" height="24.50" fill="#808080"/>
<line x1="142.195" y1="325.9" x2="142.195" y2="331.2" stroke="#111" stroke-width="1.4"/>
<line x1="140.195" y1="325.9" x2="144.195" y2="325.9" stroke="#111" stroke-width="1.4"/>
<rect x="138.39" y="330.70" width="7.60" height="25.80" fill="#d2d2d2"/>
<line x1="124.9" y1="356.5" x2="124.9" y2="360.1" stroke="#000" stroke-width="1.2"/>
<text x="128.8" y="370.6" font-size="11.7" text-anchor="end" font-weight="normal" fill="#111" transform="rotate(-45 128.8 370.6)">40mmHg</text>
<line x1="161.405" y1="331.9" x2="161.405" y2="337.0" stroke="#111" stroke-width="1.4"/>
<line x1="159.405" y1="331.9" x2="163.405" y2="331.9" stroke="#111" stroke-width="1.4"/>
<rect x="157.60" y="336.50" width="7.60" height="20.00" fill="#000"/>
<line x1="172.935" y1="298.8" x2="172.935" y2="312.8" stroke="#111" stroke-width="1.4"/>
<line x1="170.935" y1="298.8" x2="174.935" y2="298.8" stroke="#111" stroke-width="1.4"/>
<rect x="169.13" y="312.30" width="7.60" height="44.20" fill="#a3a2a7"/>
<line x1="184.46499999999997" y1="293.5" x2="184.46499999999997" y2="305.5" stroke="#111" stroke-width="1.4"/>
<line x1="182.46499999999997" y1="293.5" x2="186.46499999999997" y2="293.5" stroke="#111" stroke-width="1.4"/>
<rect x="180.66" y="305.00" width="7.60" height="51.50" fill="#808080"/>
<line x1="195.99499999999998" y1="307.1" x2="195.99499999999998" y2="318.6" stroke="#111" stroke-width="1.4"/>
<line x1="193.99499999999998" y1="307.1" x2="197.99499999999998" y2="307.1" stroke="#111" stroke-width="1.4"/>
<rect x="192.19" y="318.10" width="7.60" height="38.40" fill="#d2d2d2"/>
<line x1="178.7" y1="356.5" x2="178.7" y2="360.1" stroke="#000" stroke-width="1.2"/>
<text x="182.6" y="370.6" font-size="11.7" text-anchor="end" font-weight="normal" fill="#111" transform="rotate(-45 182.6 370.6)">60mmHg</text>
<line x1="215.00500000000002" y1="326" x2="215.00500000000002" y2="330.3" stroke="#111" stroke-width="1.4"/>
<line x1="213.00500000000002" y1="326" x2="217.00500000000002" y2="326" stroke="#111" stroke-width="1.4"/>
<rect x="211.21" y="329.80" width="7.60" height="26.70" fill="#000"/>
<line x1="226.53500000000003" y1="249.4" x2="226.53500000000003" y2="291.8" stroke="#111" stroke-width="1.4"/>
<line x1="224.53500000000003" y1="249.4" x2="228.53500000000003" y2="249.4" stroke="#111" stroke-width="1.4"/>
<rect x="222.74" y="291.30" width="7.60" height="65.20" fill="#a3a2a7"/>
<line x1="238.065" y1="258.7" x2="238.065" y2="285.7" stroke="#111" stroke-width="1.4"/>
<line x1="236.065" y1="258.7" x2="240.065" y2="258.7" stroke="#111" stroke-width="1.4"/>
<rect x="234.26" y="285.20" width="7.60" height="71.30" fill="#808080"/>
<line x1="249.595" y1="260.8" x2="249.595" y2="299.0" stroke="#111" stroke-width="1.4"/>
<line x1="247.595" y1="260.8" x2="251.595" y2="260.8" stroke="#111" stroke-width="1.4"/>
<rect x="245.79" y="298.50" width="7.60" height="58.00" fill="#d2d2d2"/>
<line x1="232.3" y1="356.5" x2="232.3" y2="360.1" stroke="#000" stroke-width="1.2"/>
<text x="236.20000000000002" y="370.6" font-size="11.7" text-anchor="end" font-weight="normal" fill="#111" transform="rotate(-45 236.20000000000002 370.6)">80mmHg</text>
<line x1="54.6" y1="327.2" x2="64.9" y2="327.2" stroke="#222" stroke-width="1.1"/>
<line x1="54.6" y1="324.2" x2="54.6" y2="330.2" stroke="#222" stroke-width="1.1"/>
<line x1="64.9" y1="324.2" x2="64.9" y2="330.2" stroke="#222" stroke-width="1.1"/>
<text x="60.00" y="321.00" font-size="9.5" font-weight="bold" text-anchor="middle" fill="#222" letter-spacing="1.4">*</text>
<line x1="54.1" y1="311" x2="78.6" y2="311" stroke="#222" stroke-width="1.1"/>
<line x1="54.1" y1="308.0" x2="54.1" y2="314.0" stroke="#222" stroke-width="1.1"/>
<line x1="78.6" y1="308.0" x2="78.6" y2="314.0" stroke="#222" stroke-width="1.1"/>
<text x="65.10" y="306.20" font-size="9.5" font-weight="bold" text-anchor="middle" fill="#222" letter-spacing="1.4">**</text>
<line x1="54.1" y1="296.7" x2="90.4" y2="296.7" stroke="#222" stroke-width="1.1"/>
<line x1="54.1" y1="293.7" x2="54.1" y2="299.7" stroke="#222" stroke-width="1.1"/>
<line x1="90.4" y1="293.7" x2="90.4" y2="299.7" stroke="#222" stroke-width="1.1"/>
<text x="72.20" y="291.80" font-size="9.5" font-weight="bold" text-anchor="middle" fill="#222" letter-spacing="1.4">*</text>
<line x1="107.7" y1="314.2" x2="119.5" y2="314.2" stroke="#222" stroke-width="1.1"/>
<line x1="107.7" y1="311.2" x2="107.7" y2="317.2" stroke="#222" stroke-width="1.1"/>
<line x1="119.5" y1="311.2" x2="119.5" y2="317.2" stroke="#222" stroke-width="1.1"/>
<text x="112.90" y="310.40" font-size="9.5" font-weight="bold" text-anchor="middle" fill="#222" letter-spacing="1.4">*</text>
<line x1="107.7" y1="299.6" x2="141.7" y2="299.6" stroke="#222" stroke-width="1.1"/>
<line x1="107.7" y1="296.6" x2="107.7" y2="302.6" stroke="#222" stroke-width="1.1"/>
<line x1="141.7" y1="296.6" x2="141.7" y2="302.6" stroke="#222" stroke-width="1.1"/>
<text x="125.50" y="295.90" font-size="9.5" font-weight="bold" text-anchor="middle" fill="#222" letter-spacing="1.4">*</text>
<line x1="161.4" y1="259.7" x2="197.6" y2="259.7" stroke="#222" stroke-width="1.1"/>
<line x1="161.4" y1="256.7" x2="161.4" y2="262.7" stroke="#222" stroke-width="1.1"/>
<line x1="197.6" y1="256.7" x2="197.6" y2="262.7" stroke="#222" stroke-width="1.1"/>
<text x="181.60" y="258.30" font-size="9.5" font-weight="bold" text-anchor="middle" fill="#222" letter-spacing="1.4">**</text>
<line x1="161.4" y1="274.1" x2="185.7" y2="274.1" stroke="#222" stroke-width="1.1"/>
<line x1="161.4" y1="271.1" x2="161.4" y2="277.1" stroke="#222" stroke-width="1.1"/>
<line x1="185.7" y1="271.1" x2="185.7" y2="277.1" stroke="#222" stroke-width="1.1"/>
<text x="174.60" y="272.40" font-size="9.5" font-weight="bold" text-anchor="middle" fill="#222" letter-spacing="1.4">****</text>
<line x1="161.4" y1="289.6" x2="172.4" y2="289.6" stroke="#222" stroke-width="1.1"/>
<line x1="161.4" y1="286.6" x2="161.4" y2="292.6" stroke="#222" stroke-width="1.1"/>
<line x1="172.4" y1="286.6" x2="172.4" y2="292.6" stroke="#222" stroke-width="1.1"/>
<text x="167.30" y="287.60" font-size="9.5" font-weight="bold" text-anchor="middle" fill="#222" letter-spacing="1.4">**</text>
<line x1="183.5" y1="287.6" x2="195.3" y2="287.6" stroke="#222" stroke-width="1.1"/>
<line x1="183.5" y1="284.6" x2="183.5" y2="290.6" stroke="#222" stroke-width="1.1"/>
<line x1="195.3" y1="284.6" x2="195.3" y2="290.6" stroke="#222" stroke-width="1.1"/>
<text x="190.30" y="286.60" font-size="9.5" font-weight="bold" text-anchor="middle" fill="#222" letter-spacing="1.4">*</text>
<line x1="213.8" y1="226.5" x2="237.4" y2="226.5" stroke="#222" stroke-width="1.1"/>
<line x1="213.8" y1="223.5" x2="213.8" y2="229.5" stroke="#222" stroke-width="1.1"/>
<line x1="237.4" y1="223.5" x2="237.4" y2="229.5" stroke="#222" stroke-width="1.1"/>
<text x="227.50" y="226.30" font-size="9.5" font-weight="bold" text-anchor="middle" fill="#222" letter-spacing="1.4">*</text>
<line x1="214.3" y1="240.7" x2="226.7" y2="240.7" stroke="#222" stroke-width="1.1"/>
<line x1="214.3" y1="237.7" x2="214.3" y2="243.7" stroke="#222" stroke-width="1.1"/>
<line x1="226.7" y1="237.7" x2="226.7" y2="243.7" stroke="#222" stroke-width="1.1"/>
<text x="221.60" y="240.60" font-size="9.5" font-weight="bold" text-anchor="middle" fill="#222" letter-spacing="1.4">*</text>
<text x="289" y="177.1" font-size="13" text-anchor="start" font-weight="bold" fill="#000">d</text>
<line x1="339.95" y1="218.0" x2="339.95" y2="357.09999999999997" stroke="#000" stroke-width="1.4"/>
<line x1="339.25" y1="356.4" x2="546.6" y2="356.4" stroke="#000" stroke-width="1.4"/>
<line x1="335.5" y1="356.4" x2="339.95" y2="356.4" stroke="#000" stroke-width="1.3"/>
<text x="333.2" y="360.0" font-size="11" text-anchor="end" font-weight="normal" fill="#111">0</text>
<line x1="335.5" y1="328.85999999999996" x2="339.95" y2="328.85999999999996" stroke="#000" stroke-width="1.3"/>
<text x="333.2" y="332.46" font-size="11" text-anchor="end" font-weight="normal" fill="#111">50</text>
<line x1="335.5" y1="301.32" x2="339.95" y2="301.32" stroke="#000" stroke-width="1.3"/>
<text x="333.2" y="304.92" font-size="11" text-anchor="end" font-weight="normal" fill="#111">100</text>
<line x1="335.5" y1="273.78" x2="339.95" y2="273.78" stroke="#000" stroke-width="1.3"/>
<text x="333.2" y="277.38" font-size="11" text-anchor="end" font-weight="normal" fill="#111">150</text>
<line x1="335.5" y1="246.23999999999998" x2="339.95" y2="246.23999999999998" stroke="#000" stroke-width="1.3"/>
<text x="333.2" y="249.83999999999997" font-size="11" text-anchor="end" font-weight="normal" fill="#111">200</text>
<line x1="335.5" y1="218.7" x2="339.95" y2="218.7" stroke="#000" stroke-width="1.3"/>
<text x="333.2" y="222.29999999999998" font-size="11" text-anchor="end" font-weight="normal" fill="#111">250</text>
<text x="308.8" y="286.8" font-size="11.1" text-anchor="middle" font-weight="normal" fill="#111" transform="rotate(-90 308.8 286.8)">scores</text>
<line x1="355.0" y1="236.8" x2="355.0" y2="249.2" stroke="#111" stroke-width="1.45"/>
<line x1="351.25" y1="236.8" x2="358.75" y2="236.8" stroke="#111" stroke-width="1.45"/>
<rect x="347.35" y="248.70" width="15.30" height="107.70" fill="#3a3a3a"/>
<line x1="377.75" y1="278.3" x2="377.75" y2="287.8" stroke="#111" stroke-width="1.45"/>
<line x1="374.0" y1="278.3" x2="381.5" y2="278.3" stroke="#111" stroke-width="1.45"/>
<rect x="370.10" y="287.30" width="15.30" height="69.10" fill="#000"/>
<line x1="400.65" y1="277.7" x2="400.65" y2="282.7" stroke="#111" stroke-width="1.45"/>
<line x1="396.9" y1="277.7" x2="404.4" y2="277.7" stroke="#111" stroke-width="1.45"/>
<rect x="393.00" y="282.20" width="15.30" height="74.20" fill="#828282"/>
<line x1="423.65" y1="286.3" x2="423.65" y2="295.1" stroke="#111" stroke-width="1.45"/>
<line x1="419.9" y1="286.3" x2="427.4" y2="286.3" stroke="#111" stroke-width="1.45"/>
<rect x="416.00" y="294.60" width="15.30" height="61.80" fill="#d2d2d2"/>
<line x1="461.75" y1="332.1" x2="461.75" y2="336.7" stroke="#111" stroke-width="1.45"/>
<line x1="458.0" y1="332.1" x2="465.5" y2="332.1" stroke="#111" stroke-width="1.45"/>
<rect x="454.10" y="336.20" width="15.30" height="20.20" fill="#3a3a3a"/>
<line x1="484.54999999999995" y1="343.0" x2="484.54999999999995" y2="345.8" stroke="#111" stroke-width="1.45"/>
<line x1="480.79999999999995" y1="343.0" x2="488.29999999999995" y2="343.0" stroke="#111" stroke-width="1.45"/>
<rect x="476.90" y="345.30" width="15.30" height="11.10" fill="#000"/>
<line x1="507.95" y1="344.8" x2="507.95" y2="347.7" stroke="#111" stroke-width="1.45"/>
<line x1="504.2" y1="344.8" x2="511.7" y2="344.8" stroke="#111" stroke-width="1.45"/>
<rect x="500.30" y="347.20" width="15.30" height="9.20" fill="#828282"/>
<line x1="530.85" y1="343.3" x2="530.85" y2="345.0" stroke="#111" stroke-width="1.45"/>
<line x1="527.1" y1="343.3" x2="534.6" y2="343.3" stroke="#111" stroke-width="1.45"/>
<rect x="523.20" y="344.50" width="15.30" height="11.90" fill="#d2d2d2"/>
<line x1="389" y1="356.4" x2="389" y2="360.2" stroke="#000" stroke-width="1.2"/>
<line x1="496.2" y1="356.4" x2="496.2" y2="360.2" stroke="#000" stroke-width="1.2"/>
<text x="393.1" y="370.1" font-size="11.3" text-anchor="end" font-weight="normal" fill="#111" transform="rotate(-45 393.1 370.1)">horizontal</text>
<text x="500.0" y="370.4" font-size="11.3" text-anchor="end" font-weight="normal" fill="#111" transform="rotate(-45 500.0 370.4)">vertical</text>
<line x1="355" y1="195.5" x2="423.5" y2="195.5" stroke="#222" stroke-width="1.1"/>
<line x1="355" y1="192.5" x2="355" y2="198.5" stroke="#222" stroke-width="1.1"/>
<line x1="423.5" y1="192.5" x2="423.5" y2="198.5" stroke="#222" stroke-width="1.1"/>
<text x="390.52" y="194.10" font-size="9.5" font-weight="bold" text-anchor="middle" fill="#222" letter-spacing="1.05">****</text>
<line x1="355" y1="213.3" x2="398.6" y2="213.3" stroke="#222" stroke-width="0.9"/>
<line x1="355" y1="210.3" x2="355" y2="216.3" stroke="#222" stroke-width="0.9"/>
<line x1="398.6" y1="210.3" x2="398.6" y2="216.3" stroke="#222" stroke-width="0.9"/>
<text x="377.62" y="211.20" font-size="9.5" font-weight="bold" text-anchor="middle" fill="#222" letter-spacing="1.05">****</text>
<line x1="355" y1="229.4" x2="377.8" y2="229.4" stroke="#222" stroke-width="1.1"/>
<line x1="355" y1="226.4" x2="355" y2="232.4" stroke="#222" stroke-width="1.1"/>
<line x1="377.8" y1="226.4" x2="377.8" y2="232.4" stroke="#222" stroke-width="1.1"/>
<text x="367.52" y="227.40" font-size="9.5" font-weight="bold" text-anchor="middle" fill="#222" letter-spacing="1.05">****</text>
<line x1="461.7" y1="290.5" x2="531.2" y2="290.5" stroke="#444" stroke-width="0.85"/>
<line x1="461.7" y1="287.5" x2="461.7" y2="293.5" stroke="#444" stroke-width="0.85"/>
<line x1="531.2" y1="287.5" x2="531.2" y2="293.5" stroke="#444" stroke-width="0.85"/>
<text x="493.72" y="288.90" font-size="9.5" font-weight="bold" text-anchor="middle" fill="#222" letter-spacing="1.05">****</text>
<line x1="461.7" y1="307.9" x2="506.1" y2="307.9" stroke="#222" stroke-width="1.1"/>
<line x1="461.7" y1="304.9" x2="461.7" y2="310.9" stroke="#222" stroke-width="1.1"/>
<line x1="506.1" y1="304.9" x2="506.1" y2="310.9" stroke="#222" stroke-width="1.1"/>
<text x="482.92" y="306.20" font-size="9.5" font-weight="bold" text-anchor="middle" fill="#222" letter-spacing="1.05">****</text>
<line x1="461.7" y1="324.5" x2="484.5" y2="324.5" stroke="#333" stroke-width="0.9"/>
<line x1="461.7" y1="321.5" x2="461.7" y2="327.5" stroke="#333" stroke-width="0.9"/>
<line x1="484.5" y1="321.5" x2="484.5" y2="327.5" stroke="#333" stroke-width="0.9"/>
<text x="474.22" y="323.10" font-size="9.5" font-weight="bold" text-anchor="middle" fill="#222" letter-spacing="1.05">****</text>
<rect x="458.10" y="189.00" width="14.00" height="7.00" fill="#3a3a3a"/>
<text x="481" y="196.1" font-size="11" text-anchor="start" font-weight="normal" fill="#111">C</text>
<rect x="458.10" y="208.00" width="14.00" height="7.00" fill="#000"/>
<text x="481" y="215.1" font-size="11" text-anchor="start" font-weight="normal" fill="#111">IA</text>
<rect x="458.10" y="226.30" width="14.00" height="7.00" fill="#828282"/>
<text x="481" y="233.4" font-size="11" text-anchor="start" font-weight="normal" fill="#111">aVNS</text>
<rect x="458.10" y="244.90" width="14.00" height="7.00" fill="#d2d2d2"/>
<text x="481" y="252.0" font-size="11" text-anchor="start" font-weight="normal" fill="#111">sham-aVNS</text>
</svg>
</body></html>
